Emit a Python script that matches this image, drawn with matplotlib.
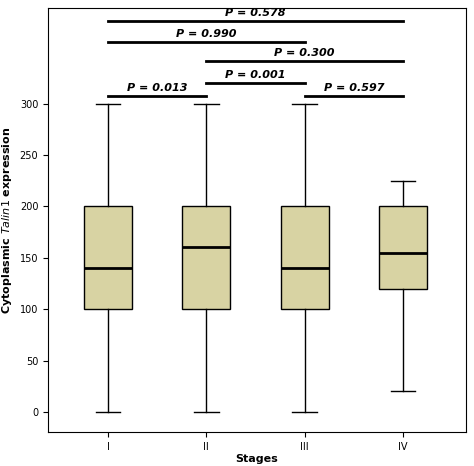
import matplotlib
matplotlib.use("Agg")
import matplotlib.pyplot as plt

stages = ["I", "II", "III", "IV"]
whislo = [0, 0, 0, 20]
q1 = [100, 100, 100, 120]
med = [140, 160, 140, 155]
q3 = [200, 200, 200, 200]
whishi = [300, 300, 300, 225]
comp_left = [1, 2, 3, 1, 2, 1]
comp_right = [2, 3, 4, 3, 4, 4]
comp_y = [307, 320, 307, 360, 341, 380]
comp_p = ["0.013", "0.001", "0.597", "0.990", "0.300", "0.578"]

fig = plt.figure(figsize=(4.74, 4.66), dpi=100)
ax = fig.add_axes([48/474, 34/466, 418/474, 424/466])
stats = [dict(label=s, whislo=a, q1=b, med=c, q3=d, whishi=e, fliers=[])
         for s, a, b, c, d, e in zip(stages, whislo, q1, med, q3, whishi)]
ax.bxp(stats, positions=range(1, 5), widths=0.49, patch_artist=True,
       boxprops=dict(facecolor="#d8d3a3", edgecolor="black", linewidth=1),
       medianprops=dict(color="black", linewidth=2),
       whiskerprops=dict(color="black", linewidth=1),
       capprops=dict(color="black", linewidth=1), capwidths=0.25)
for l, r, y, p in zip(comp_left, comp_right, comp_y, comp_p):
    ax.plot([l, r], [y, y], color="black", lw=2)
    ax.text((l + r) / 2, y + 3, f"P = {p}", ha="center", va="bottom",
            fontsize=8, fontweight="bold", style="italic")
ax.set_xlim(0.39, 4.64)
ax.set_ylim(-19.5, 393)
ax.set_yticks(range(0, 301, 50))
ax.tick_params(labelsize=7)
ax.set_xlabel("Stages", fontsize=8, fontweight="bold", labelpad=2)
ax.set_ylabel("Cytoplasmic $\\bf{\\it{Talin1}}$ expression", fontsize=8, fontweight="bold")
fig.savefig("out.png", dpi=100)
